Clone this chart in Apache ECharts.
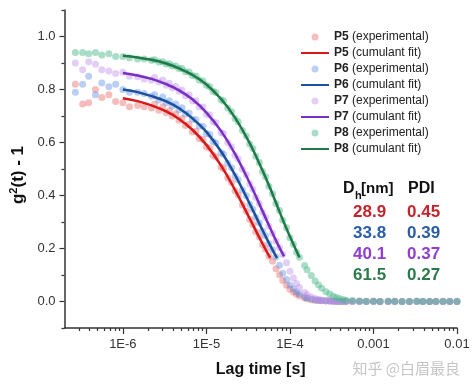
<!DOCTYPE html>
<html>
<head>
<meta charset="utf-8">
<script src="https://cdn.jsdelivr.net/npm/echarts@6/dist/echarts.min.js"></script>
<style>
html,body{margin:0;padding:0;background:#fff;}
#chart{width:474px;height:385px;}
</style>
</head>
<body>
<div id="chart"></div>
<script>
// ---------- data ----------
const lagTimes = [
  2.7e-7,3.3e-7,3.9e-7,4.7e-7,5.6e-7,6.8e-7,8.2e-7,1.0e-6,1.2e-6,1.5e-6,1.8e-6,2.2e-6,
  2.4e-6,2.7e-6,3.0e-6,3.3e-6,3.6e-6,3.9e-6,4.3e-6,4.7e-6,5.1e-6,5.6e-6,6.2e-6,6.8e-6,7.5e-6,8.2e-6,9.1e-6,
  1.0e-5,1.1e-5,1.2e-5,1.3e-5,1.5e-5,1.6e-5,1.8e-5,2.0e-5,2.2e-5,2.4e-5,2.7e-5,3.0e-5,3.3e-5,3.6e-5,3.9e-5,4.3e-5,4.7e-5,5.1e-5,5.6e-5,6.2e-5,6.8e-5,7.5e-5,8.2e-5,9.1e-5,
  1.0e-4,1.1e-4,1.2e-4,1.3e-4,1.5e-4,1.6e-4,1.8e-4,2.0e-4,2.2e-4,2.4e-4,2.7e-4,3.0e-4,3.3e-4,3.6e-4,3.9e-4,4.3e-4,4.7e-4,
  5.6e-4,6.8e-4,8.2e-4,1.0e-3,1.2e-3,1.5e-3,1.8e-3,2.2e-3,2.7e-3,3.3e-3,3.9e-3,4.7e-3,5.6e-3,6.8e-3,8.2e-3,1.0e-2
];
const expP5 = [
  0.82,0.745,0.75,0.80,0.77,0.78,0.755,0.75,0.735,0.74,0.735,0.73,
  0.745,0.722,0.735,0.712,0.720,0.700,0.708,0.684,0.690,0.664,0.668,0.640,0.642,0.615,0.611,
  0.584,0.578,0.552,0.545,0.508,0.501,0.466,0.449,0.418,0.402,0.364,0.341,0.309,0.291,0.263,0.243,0.214,0.197,0.171,0.152,0.124,0.101,0.079,0.061,
  0.046,0.036,0.027,0.021,0.013,0.010,0.007,0.005,0.004,0.003,0.002,0.002,0.001,0.001,0.000,0.001,0.000,
  0.000,0.001,0.000,0.001,0.000,0.000,0.001,0.000,0.000,0.001,0.000,0.000,0.001,0.000,0.000,0.000
];
const expP6 = [
  0.79,0.82,0.85,0.78,0.825,0.81,0.82,0.80,0.79,0.79,0.785,0.775,
  0.780,0.760,0.772,0.750,0.758,0.738,0.745,0.724,0.731,0.708,0.710,0.688,0.686,0.662,0.660,
  0.634,0.630,0.604,0.598,0.561,0.556,0.522,0.505,0.474,0.459,0.421,0.399,0.366,0.348,0.318,0.297,0.266,0.248,0.218,0.195,0.168,0.137,0.107,0.083,
  0.062,0.048,0.036,0.028,0.017,0.013,0.009,0.006,0.005,0.004,0.003,0.002,0.001,0.001,0.000,0.000,0.001,
  0.001,0.000,0.000,0.001,0.000,0.001,0.000,0.000,0.000,0.001,0.000,0.000,0.000,0.001,0.000,0.000
];
const expP7 = [
  0.90,0.875,0.905,0.895,0.875,0.87,0.86,0.865,0.85,0.848,0.84,0.835,
  0.845,0.828,0.836,0.816,0.824,0.806,0.811,0.793,0.798,0.776,0.780,0.757,0.758,0.734,0.734,
  0.707,0.704,0.678,0.675,0.638,0.634,0.600,0.584,0.552,0.538,0.499,0.478,0.443,0.424,0.393,0.370,0.337,0.318,0.284,0.258,0.228,0.204,0.177,0.146,
  0.114,0.089,0.068,0.053,0.034,0.026,0.017,0.011,0.008,0.006,0.004,0.003,0.002,0.001,0.001,0.000,0.000,
  0.000,0.000,0.001,0.000,0.000,0.000,0.001,0.000,0.000,0.000,0.001,0.000,0.000,0.000,0.000,0.001
];
const expP8 = [
  0.94,0.94,0.935,0.94,0.93,0.935,0.925,0.925,0.92,0.915,0.915,0.91,
  0.912,0.904,0.905,0.896,0.897,0.889,0.889,0.879,0.879,0.867,0.866,0.853,0.850,0.836,0.832,
  0.816,0.810,0.793,0.789,0.761,0.757,0.730,0.716,0.691,0.678,0.645,0.625,0.594,0.577,0.548,0.525,0.491,0.471,0.435,0.407,0.370,0.343,0.307,0.278,
  0.241,0.216,0.186,0.167,0.136,0.120,0.098,0.077,0.062,0.050,0.037,0.028,0.020,0.015,0.011,0.008,0.005,
  0.004,0.002,0.001,0.001,0.000,0.001,0.000,0.000,0.000,0.001,0.000,0.000,0.000,0.000,0.001,0.000
];
const fitLag = [1.0e-6,1.5e-6,2.2e-6,3.3e-6,4.7e-6,6.8e-6,1.0e-5,1.5e-5,2.2e-5,3.3e-5,4.7e-5,5.8e-5,7.0e-5,8.5e-5,1.0e-4,1.3e-4];
const fitP5 = [0.767,0.756,0.740,0.717,0.689,0.648,0.591,0.513,0.421,0.313,0.218,0.165,null,null,null,null];
const fitP6 = [0.800,0.790,0.775,0.755,0.729,0.691,0.640,0.566,0.478,0.369,0.269,0.212,0.164,null,null,null];
const fitP7 = [0.862,0.853,0.840,0.820,0.797,0.763,0.713,0.643,0.557,0.447,0.341,0.277,0.222,0.170,null,null];
const fitP8 = [0.927,0.921,0.912,0.898,0.880,0.855,0.819,0.764,0.694,0.597,0.494,0.427,0.363,0.297,0.245,0.166];

const samples = ['P5','P6','P7','P8'];
const dhValues = ['28.9','33.8','40.1','61.5'];
const pdiValues = ['0.45','0.39','0.37','0.27'];

const yMajor = [0,0.2,0.4,0.6,0.8,1.0];
const yMinor = [-0.1,0.1,0.3,0.5,0.7,0.9,1.1];
const xMajor = [1e-6,1e-5,1e-4,1e-3,1e-2];
const xTickLabels = ['1E-6','1E-5','1E-4','0.001','0.01'];
const xMinorMultipliers = [2,3,4,5,6,7,8,9];
const xMinorDecades = [1e-7,1e-6,1e-5,1e-4,1e-3];

// ---------- styles ----------
const dotColors = ['rgba(236,104,104,0.55)','rgba(96,146,228,0.55)','rgba(192,144,232,0.55)','rgba(76,184,138,0.6)'];
const lineColors = ['#d41a1a','#1c4f9c','#7a2fc4','#1f7a47'];
const textColors = ['#c8232c','#2a5caa','#8e3ed0','#2b7a4b'];
const axisColor = '#333';

const xMinor = [];
xMinorDecades.forEach(d => xMinorMultipliers.forEach(m => { const v = m*d; if (v > 2.05e-7 && v < 1e-2) xMinor.push(v); }));

const expData = [expP5, expP6, expP7, expP8];
const fitData = [fitP5, fitP6, fitP7, fitP8];

const series = [];
const legendData = [];
samples.forEach((s, i) => {
  series.push({
    type: 'scatter', name: s + ' (experimental)',
    data: lagTimes.map((t, k) => [t, expData[i][k]]),
    symbol: 'circle', symbolSize: 7,
    itemStyle: { color: dotColors[i] },
    z: 2, silent: true
  });
});
samples.forEach((s, i) => {
  series.push({
    type: 'line', name: s + ' (cumulant fit)',
    data: fitLag.map((t, k) => [t, fitData[i][k]]).filter(p => p[1] !== null),
    smooth: 0.4, symbol: 'none', showSymbol: false,
    lineStyle: { color: lineColors[i], width: 2.5 },
    itemStyle: { color: lineColors[i] },
    z: 3, silent: true
  });
  legendData.push({ name: s + ' (experimental)' }, { name: s + ' (cumulant fit)', itemStyle: { opacity: 0 } });
});

function xLabel(v) {
  for (let i = 0; i < xMajor.length; i++) {
    if (Math.abs(Math.log10(v) - Math.log10(xMajor[i])) < 1e-6) return xTickLabels[i];
  }
  return '';
}

const fontBold = '"Liberation Sans", Arial, sans-serif';
const graphic = [
  { type: 'text', left: 343, top: 181, style: { text: 'D', font: 'bold 16px ' + fontBold, fill: '#111' } },
  { type: 'text', left: 355, top: 190, style: { text: 'h', font: 'bold 11px ' + fontBold, fill: '#111' } },
  { type: 'text', left: 361, top: 181, style: { text: '[nm]', font: 'bold 15px ' + fontBold, fill: '#111' } },
  { type: 'text', left: 408, top: 181, style: { text: 'PDI', font: 'bold 16px ' + fontBold, fill: '#111' } },
  { type: 'text', right: 14, top: 361, style: { text: '知乎 @白眉最良', font: '15px "Noto Sans CJK SC", sans-serif', fill: 'rgba(150,150,150,0.55)' } }
];
const rowTops = [204, 225, 246, 267];
samples.forEach((s, i) => {
  graphic.push({ type: 'text', left: 353, top: rowTops[i], style: { text: dhValues[i], font: 'bold 17px ' + fontBold, fill: textColors[i] } });
  graphic.push({ type: 'text', left: 407, top: rowTops[i], style: { text: pdiValues[i], font: 'bold 17px ' + fontBold, fill: textColors[i] } });
});

const chart = echarts.init(document.getElementById('chart'), null, { renderer: 'canvas' });
chart.setOption({
  animation: false,
  backgroundColor: '#fff',
  textStyle: { fontFamily: '"Liberation Sans", Arial, sans-serif' },
  grid: { left: 61, right: 17, top: 10, bottom: 57, containLabel: false },
  legend: {
    data: legendData, orient: 'vertical', left: 295, top: 25,
    itemWidth: 28, itemHeight: 7, itemGap: 2, selectedMode: false,
    textStyle: { fontSize: 12, color: '#222', lineHeight: 14,
      rich: { b: { fontSize: 12, fontWeight: 'bold', color: '#222', lineHeight: 14 } } },
    formatter: name => { const sp = name.indexOf(' '); return '{b|' + name.slice(0, sp) + '}' + name.slice(sp); }
  },
  xAxis: [
    {
      type: 'log', logBase: 10, min: 2e-7, max: 1e-2, position: 'bottom',
      axisLine: { show: true, onZero: false, lineStyle: { color: axisColor, width: 1.5 } },
      axisTick: { show: true, inside: false, length: 6, customValues: xMajor, lineStyle: { color: axisColor, width: 1.2 } },
      axisLabel: { customValues: xMajor, formatter: xLabel, fontSize: 13, color: '#333', margin: 10 },
      splitLine: { show: false }, minorTick: { show: false },
      name: 'Lag time [s]', nameLocation: 'middle', nameGap: 34,
      nameTextStyle: { fontSize: 16, fontWeight: 'bold', color: '#111' }
    },
    {
      type: 'log', logBase: 10, min: 2e-7, max: 1e-2, position: 'bottom', gridIndex: 0,
      axisLine: { show: false, onZero: false },
      axisTick: { show: true, inside: false, length: 3, customValues: xMinor, lineStyle: { color: axisColor, width: 1.2 } },
      axisLabel: { show: false }, splitLine: { show: false }
    }
  ],
  yAxis: [
    {
      type: 'value', min: -0.1, max: 1.1, interval: 0.1, position: 'left',
      axisLine: { show: true, onZero: false, lineStyle: { color: axisColor, width: 1.5 } },
      axisTick: { show: true, inside: false, length: 5, customValues: yMajor, lineStyle: { color: axisColor, width: 1.2 } },
      axisLabel: { customValues: yMajor, formatter: v => v.toFixed(1), fontSize: 13, color: '#333', margin: 9 },
      splitLine: { show: false },
      name: '{a|g}{s|2}{a|(t) - 1}', nameLocation: 'middle', nameGap: 33,
      nameTextStyle: { fontSize: 17, fontWeight: 'bold', color: '#111', padding: [0, 12, 0, 0],
        rich: { a: { fontSize: 17, fontWeight: 'bold', color: '#111', lineHeight: 20 },
                s: { fontSize: 11, fontWeight: 'bold', color: '#111', lineHeight: 20, verticalAlign: 'top' } } }
    },
    {
      type: 'value', min: -0.1, max: 1.1, interval: 0.1, position: 'left', gridIndex: 0,
      axisLine: { show: false, onZero: false },
      axisTick: { show: true, inside: false, length: 3, customValues: yMinor, lineStyle: { color: axisColor, width: 1.2 } },
      axisLabel: { show: false }, splitLine: { show: false }
    }
  ],
  graphic: graphic,
  series: series
});
</script>
</body>
</html>
